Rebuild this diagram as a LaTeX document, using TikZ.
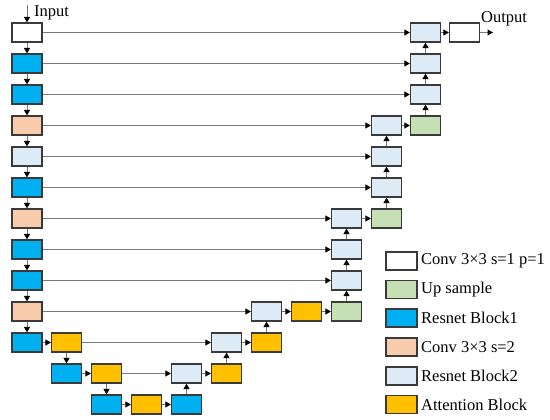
\documentclass[tikz,border=0pt]{standalone}
\usepackage{fontspec}
\setmainfont{Liberation Serif}
\usetikzlibrary{arrows.meta}
\definecolor{cwhite}{HTML}{FFFFFF}
\definecolor{cblue}{HTML}{00B0F0}
\definecolor{cpeach}{HTML}{F8CBAD}
\definecolor{clblue}{HTML}{DDEBF7}
\definecolor{cgreen}{HTML}{C5E0B4}
\definecolor{cyellow}{HTML}{FFC000}
\definecolor{edge}{HTML}{3A3A3A}
\definecolor{linegray}{HTML}{7A7A7A}
\tikzset{
  blk/.style={draw=edge, line width=1.2pt, minimum width=30pt, minimum height=19pt, inner sep=0pt},
  wb/.style={blk, fill=cwhite},
  bb/.style={blk, fill=cblue},
  pb/.style={blk, fill=cpeach},
  lb/.style={blk, fill=clblue},
  gb/.style={blk, fill=cgreen},
  yb/.style={blk, fill=cyellow},
  arr/.style={draw=linegray, line width=1pt, -{Triangle[length=5.5pt,width=6pt,color=black]}},
  lbl/.style={font=\fontsize{16.5}{19}\selectfont, inner sep=0pt, anchor=west},
}
\begin{document}
\begin{tikzpicture}[x=1pt,y=-1pt]
\useasboundingbox (0,0) rectangle (550,420);
% left column
\node[wb] (r1c0) at (27,32.5) {};
\node[bb] (r2c0) at (27,63.5) {};
\node[bb] (r3c0) at (27,94.5) {};
\node[pb] (r4c0) at (27,125.5) {};
\node[lb] (r5c0) at (27,156.5) {};
\node[bb] (r6c0) at (27,187.5) {};
\node[pb] (r7c0) at (27,218.5) {};
\node[bb] (r8c0) at (27,249.5) {};
\node[bb] (r9c0) at (27,280.5) {};
\node[pb] (r10c0) at (27,311.5) {};
\node[bb] (r11c0) at (27,342.5) {};
% bottom part
\node[yb] (r11c1) at (66.5,342.5) {};
\node[bb] (r12c1) at (66.5,373.5) {};
\node[yb] (r12c2) at (106.5,373.5) {};
\node[bb] (r13c2) at (106.5,404.5) {};
\node[yb] (r13c3) at (146.5,404.5) {};
\node[bb] (r13c4) at (186.5,404.5) {};
\node[lb] (r12c4) at (186.5,373.5) {};
\node[yb] (r12c5) at (226.5,373.5) {};
\node[lb] (r11c5) at (226.5,342.5) {};
\node[yb] (r11c6) at (266.5,342.5) {};
% right part
\node[lb] (r10c6) at (266.5,311.5) {};
\node[yb] (r10c7) at (306.5,311.5) {};
\node[gb] (r10c8) at (346.5,311.5) {};
\node[lb] (r9c8) at (346.5,280.5) {};
\node[lb] (r8c8) at (346.5,249.5) {};
\node[lb] (r7c8) at (346.5,218.5) {};
\node[gb] (r7c9) at (386.5,218.5) {};
\node[lb] (r6c9) at (386.5,187.5) {};
\node[lb] (r5c9) at (386.5,156.5) {};
\node[lb] (r4c9) at (386.5,125.5) {};
\node[gb] (r4c10) at (425.5,125.5) {};
\node[lb] (r3c10) at (425.5,94.5) {};
\node[lb] (r2c10) at (425.5,63.5) {};
\node[lb] (r1c10) at (425.5,32.5) {};
\node[wb] (r1c11) at (464.5,32.5) {};
% input / output
\coordinate (inp) at (27,5);
\coordinate (outp) at (493,32.5);
\node[lbl] (intext) at (34,13) {Input};
\node[lbl] (outtext) at (481,19) {Output};
\draw[arr] (inp) -- (r1c0);
\draw[arr] (r1c11) -- (outp);
% down arrows
\foreach \a/\b in {r1c0/r2c0,r2c0/r3c0,r3c0/r4c0,r4c0/r5c0,r5c0/r6c0,r6c0/r7c0,r7c0/r8c0,r8c0/r9c0,r9c0/r10c0,r10c0/r11c0,r11c1/r12c1,r12c2/r13c2}
  \draw[arr] (\a) -- (\b);
% right arrows
\foreach \a/\b in {r11c0/r11c1,r12c1/r12c2,r13c2/r13c3,r13c3/r13c4,r12c4/r12c5,r11c5/r11c6,r10c6/r10c7,r10c7/r10c8,r7c8/r7c9,r4c9/r4c10,r1c10/r1c11}
  \draw[arr] (\a) -- (\b);
% up arrows
\foreach \a/\b in {r13c4/r12c4,r12c5/r11c5,r11c6/r10c6,r10c8/r9c8,r9c8/r8c8,r8c8/r7c8,r7c9/r6c9,r6c9/r5c9,r5c9/r4c9,r4c10/r3c10,r3c10/r2c10,r2c10/r1c10}
  \draw[arr] (\a) -- (\b);
% skip connections
\foreach \a/\b in {r1c0/r1c10,r2c0/r2c10,r3c0/r3c10,r4c0/r4c9,r5c0/r5c9,r6c0/r6c9,r7c0/r7c8,r8c0/r8c8,r9c0/r9c8,r10c0/r10c6,r11c1/r11c5,r12c2/r12c4}
  \draw[arr] (\a) -- (\b);
% legend
\node[wb, minimum width=31pt, minimum height=18pt] (lg1) at (401.5,261) {};
\node[gb, minimum width=31pt, minimum height=18pt] (lg2) at (401.5,289.5) {};
\node[bb, minimum width=31pt, minimum height=18pt] (lg3) at (401.5,318) {};
\node[pb, minimum width=31pt, minimum height=18pt] (lg4) at (401.5,347) {};
\node[lb, minimum width=31pt, minimum height=18pt] (lg5) at (401.5,376) {};
\node[yb, minimum width=31pt, minimum height=18pt] (lg6) at (401.5,404.5) {};
\node[lbl] (lt1) at (421,261) {Conv 3×3 s=1 p=1};
\node[lbl] (lt2) at (421,289.5) {Up sample};
\node[lbl] (lt3) at (421,318) {Resnet Block1};
\node[lbl] (lt4) at (421,347) {Conv 3×3 s=2};
\node[lbl] (lt5) at (421,376) {Resnet Block2};
\node[lbl] (lt6) at (421,404.5) {Attention Block};
\end{tikzpicture}
\end{document}
